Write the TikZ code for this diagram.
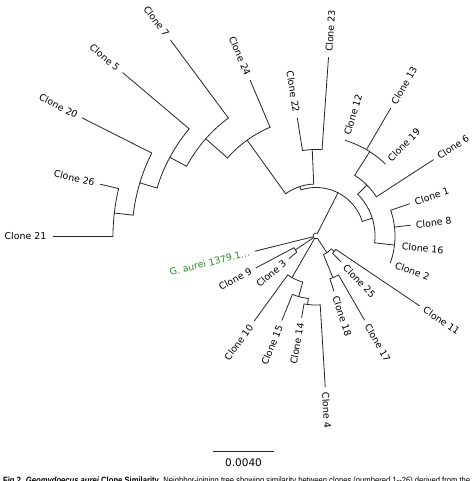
\documentclass[tikz,border=0pt]{standalone}
\usepackage{fontspec}
\setmainfont{DejaVu Sans}
\newfontfamily\capfont{Liberation Sans}
\usepackage{graphicx}
\definecolor{aureigreen}{RGB}{40,140,40}
\tikzset{
  branch/.style={line width=0.8pt, black!85, line cap=round},
  tiplab/.style={font=\fontsize{9.4}{10}\selectfont, inner sep=1.5pt},
  outlab/.style={text=aureigreen},
}
% radial branch: angle, r1, r2
\newcommand\tbr[3]{\draw[branch] (#1:#2pt) -- (#1:#3pt);}
% arc: radius, start angle, end angle
\newcommand\tarc[3]{\draw[branch] (#2:#1pt) arc[start angle=#2, end angle=#3, radius=#1pt];}
% labels: [opts] angle, radius, text, name
\newcommand\rlab[5][]{\node[tiplab,#1,anchor=west,rotate=#2] (#5) at (#2:#3pt) {#4};}
\newcommand\llab[5][]{\node[tiplab,#1,anchor=east,rotate=#2-180] (#5) at (#2:#3pt) {#4};}
\begin{document}
\begin{tikzpicture}[x=1pt,y=-1pt]
\useasboundingbox (0,0) rectangle (474,481);
\fill[white] (0,0) rectangle (474,481);
\begin{scope}[shift={(316,236)}]
  % root
  \tarc{3}{63}{303}
  \tbr{63}{3}{48.5}
  \tbr{194}{3}{63}
  \tbr{214}{3}{25}
  \tbr{240}{3}{48}
  \tbr{303}{3}{20}
  % G (upper clade)
  \tarc{48.5}{17.5}{108}
  \tbr{108}{48.5}{52}
  \tbr{17.5}{48.5}{59}
  % F
  \tarc{52}{92.5}{125.7}
  \tbr{92.5}{52}{86.5}
  \tbr{125.7}{52}{118}
  % H
  \tarc{86.5}{86}{99}
  \tbr{86}{86.5}{179}
  \tbr{99}{86.5}{119.5}
  % E
  \tarc{118}{112.9}{138.6}
  \tbr{112.9}{118}{169}
  \tbr{138.6}{118}{147}
  % D
  \tarc{147}{126.6}{151.7}
  \tbr{126.6}{147}{244}
  \tbr{151.7}{147}{166}
  % C
  \tarc{166}{139.8}{163.2}
  \tbr{139.8}{166}{253}
  \tbr{163.2}{166}{184}
  % B
  \tarc{184}{153.2}{173.5}
  \tbr{153.2}{184}{262}
  \tbr{173.5}{184}{203}
  % A
  \tarc{203}{166.5}{180}
  \tbr{166.5}{203}{222}
  \tbr{180}{203}{263}
  % M
  \tarc{59}{-6.6}{45}
  \tbr{45}{59}{72}
  \tbr{-6.6}{59}{79}
  % K
  \tarc{72}{33}{57.5}
  \tbr{33}{72}{140}
  \tbr{57.5}{72}{100}
  % J
  \tarc{100}{46}{73}
  \tbr{59.7}{100}{148}
  % N
  \tarc{79}{-20}{19}
  \tbr{19}{79}{99}
  \tbr{6.5}{79}{95}
  % W
  \tarc{20}{-68}{-40}
  \tbr{-40}{20}{24}
  \tbr{-68}{20}{45}
  % X
  \tarc{24}{-46}{-34}
  \tbr{-34}{24}{125}
  \tbr{-46}{24}{36}
  % Y
  \tarc{45}{-72}{-60}
  \tbr{-60}{45}{97}
  \tbr{-72}{45}{58}
  % R
  \tarc{25}{208}{220}
  \tbr{208}{25}{68}
  \tbr{220}{25}{35}
  % T
  \tarc{48}{234}{254}
  \tbr{234}{48}{105}
  \tbr{254}{48}{63}
  % U
  \tarc{63}{248}{263}
  \tbr{248}{63}{91}
  \tbr{263}{63}{69}
  % V
  \tarc{69}{260}{273.5}
  \tbr{260}{69}{83}
  \tbr{273.5}{69}{151}
  % labels, right side
  \rlab{86}{183}{Clone 23}{c23}
  \rlab{59.7}{152}{Clone 13}{c13}
  \rlab{73}{104}{Clone 12}{c12}
  \rlab{46}{104}{Clone 19}{c19}
  \rlab{33}{144}{Clone 6}{c6}
  \rlab{19}{103}{Clone 1}{c1}
  \rlab{6.5}{99}{Clone 8}{c8}
  \rlab{-6.6}{85}{Clone 16}{c16}
  \rlab{-20}{83}{Clone 2}{c2}
  \rlab{-34}{129}{Clone 11}{c11}
  \rlab{-46}{40}{Clone 25}{c25}
  \rlab{-60}{101}{Clone 17}{c17}
  \rlab{-72}{62}{Clone 18}{c18}
  \rlab{-86.5}{155}{Clone 4}{c4}
  % labels, left side
  \llab{99}{123.5}{Clone 22}{c22}
  \llab{112.9}{173}{Clone 24}{c24}
  \llab{126.6}{248}{Clone 7}{c7}
  \llab{139.8}{257}{Clone 5}{c5}
  \llab{153.2}{266}{Clone 20}{c20}
  \llab{166.5}{226}{Clone 26}{c26}
  \llab{180}{268}{Clone 21}{c21}
  \llab[outlab]{194}{67}{G. aurei 1379.1...}{gaurei}
  \llab{208}{72}{Clone 9}{c9}
  \llab{220}{39}{Clone 3}{c3}
  \llab{234}{109}{Clone 10}{c10}
  \llab{248}{95}{Clone 15}{c15}
  \llab{260}{87}{Clone 14}{c14}
\end{scope}
% scale bar
\coordinate (sbL) at (213,451);
\coordinate (sbR) at (274,451);
\draw[branch, line cap=butt] (sbL) -- (sbR);
\node[font=\fontsize{10.5}{12}\selectfont, inner sep=0] (sbtext) at (243.5,462.5) {0.0040};
% caption (cut off by the page edge, as in the reference)
\node[anchor=base west, inner sep=0] (caption) at (3,483)
  {\resizebox{467pt}{6.6pt}{\capfont\textbf{Fig 2. \textit{Geomydoecus aurei} Clone Similarity.} Neighbor-joining tree showing similarity between clones (numbered 1--26) derived from the}};
\end{tikzpicture}
\end{document}
